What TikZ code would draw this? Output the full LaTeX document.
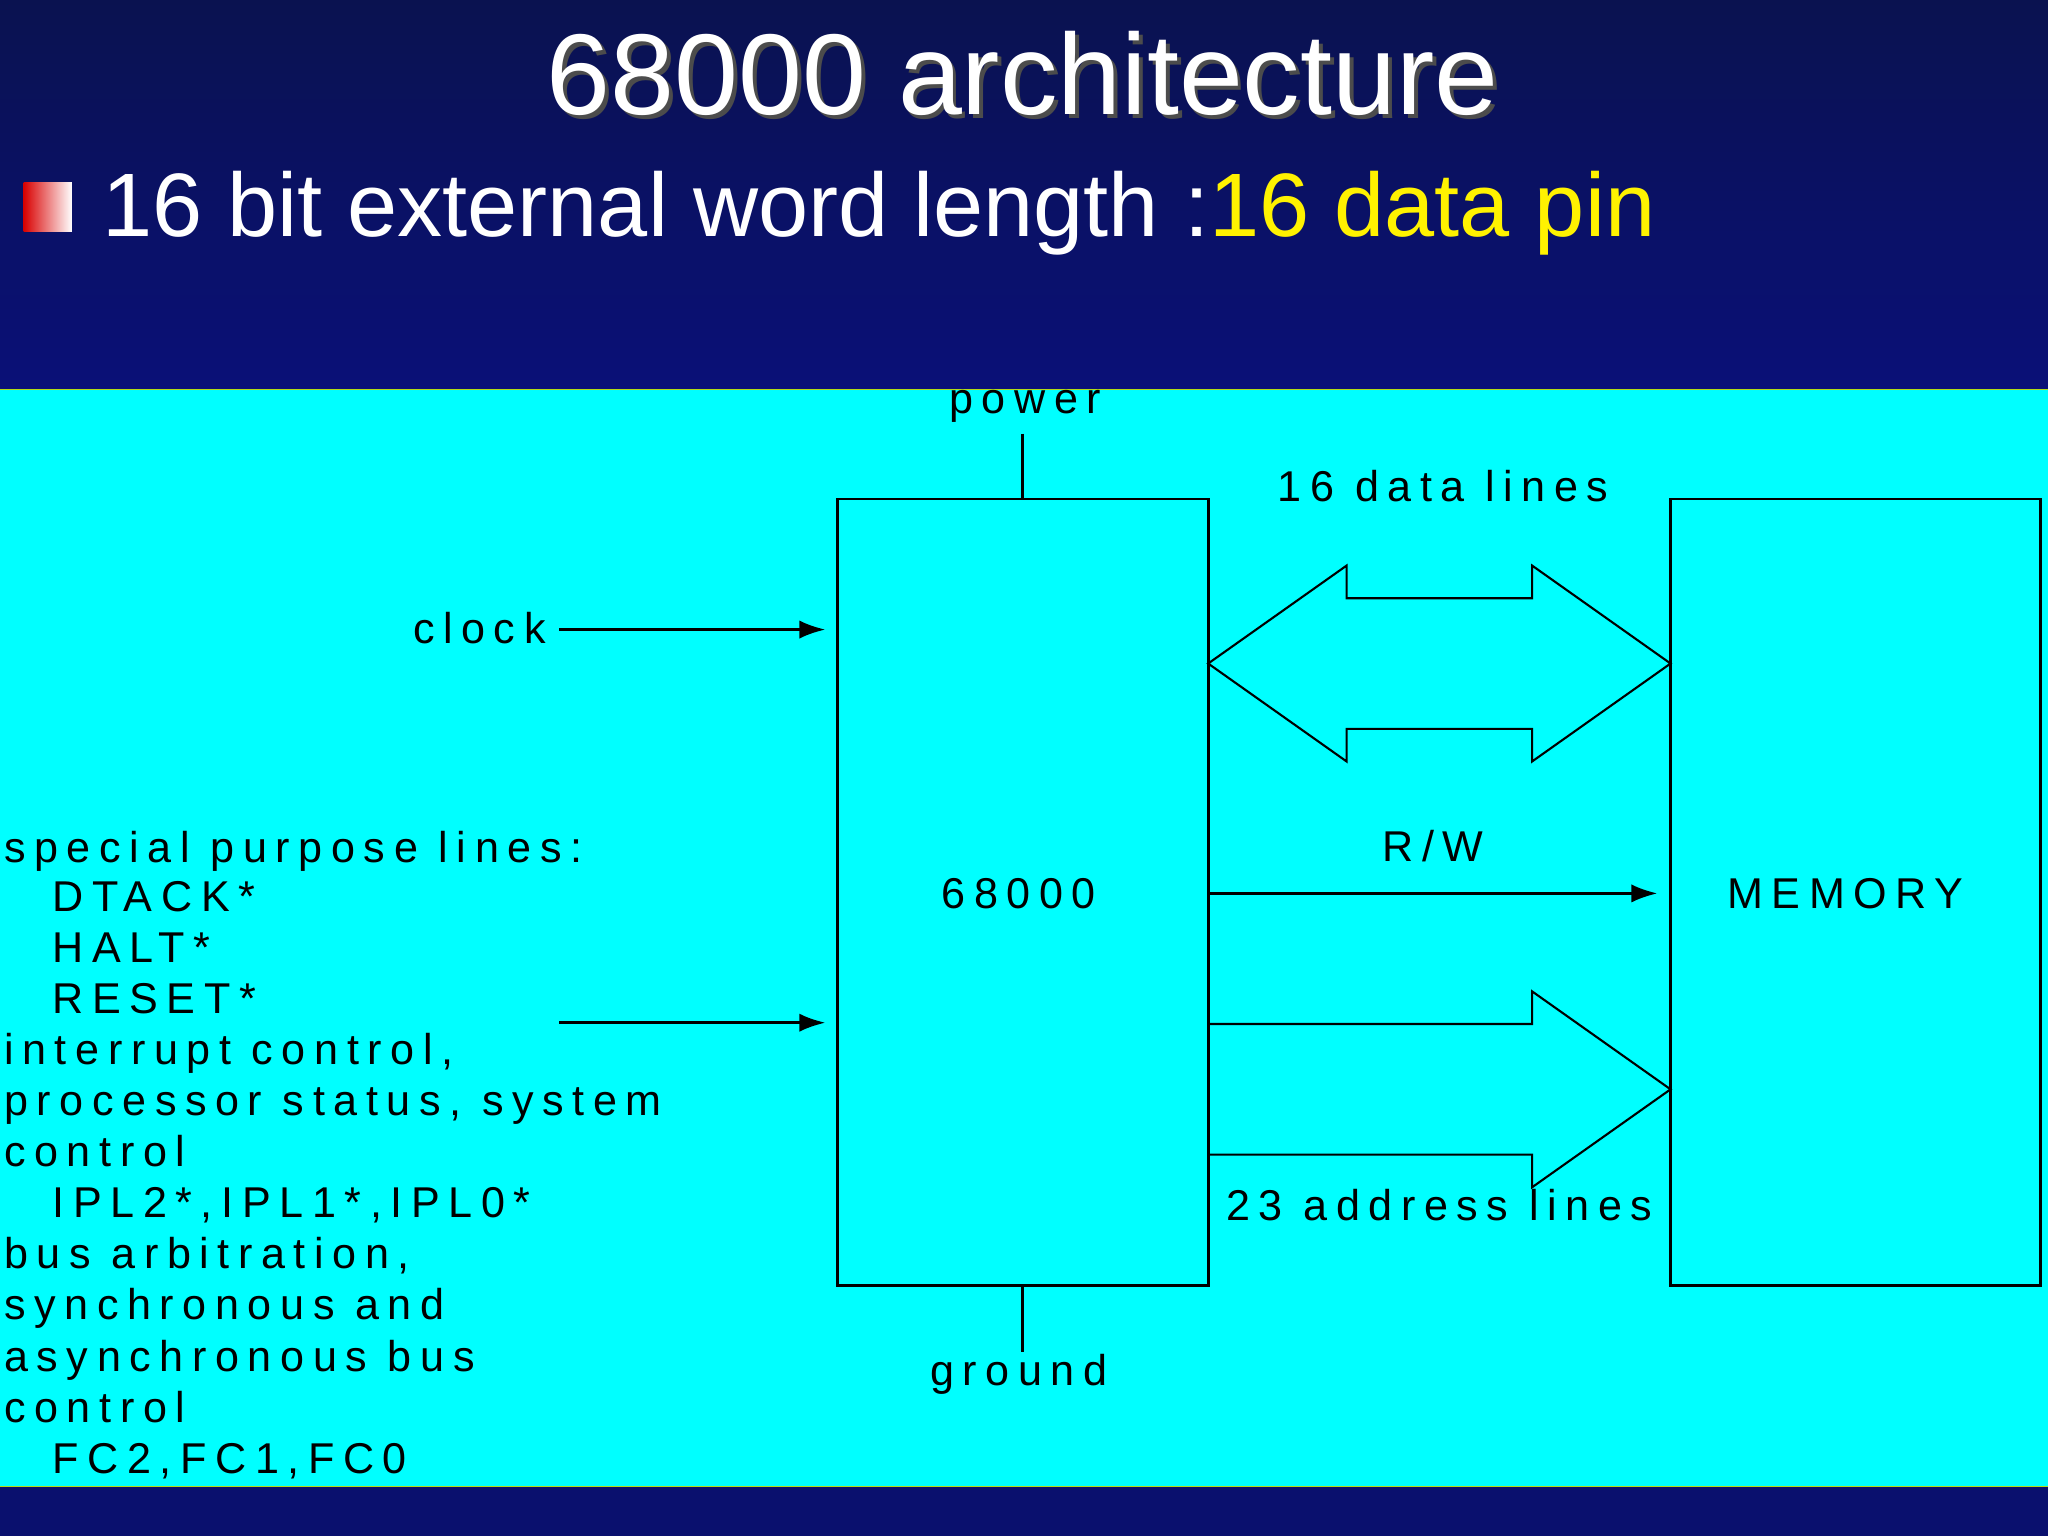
\documentclass[tikz,border=0pt]{standalone}
\usepackage{fontspec}
\setmainfont{Liberation Sans}
\newfontfamily\diagfont{Liberation Sans}[LetterSpace=20]
\usetikzlibrary{arrows.meta}
\definecolor{navytop}{RGB}{10,18,80}
\definecolor{navybot}{RGB}{10,16,120}
\definecolor{navyband}{RGB}{10,16,110}
\definecolor{panel}{RGB}{0,255,255}
\begin{document}
\begin{tikzpicture}[x=1pt,y=-1pt,
  dtxt/.style={font=\diagfont\fontsize{33}{38}\selectfont, inner sep=0pt},
  ltxt/.style={dtxt, anchor=base west},
  blk/.style={draw=black, line width=2.2pt},
  arr/.style={draw=black, line width=2.2pt, -{Latex[length=20pt,width=14pt]}}]
\useasboundingbox (0,0) rectangle (1568,1176);
\shade[top color=navytop, bottom color=navybot] (0,0) rectangle (1568,300);
\fill[navyband] (0,1136) rectangle (1568,1176);
\fill[panel] (0,298) rectangle (1568,1138);
\draw[yellow!70!green, line width=1pt] (0,298) -- (1568,298) (0,1138) -- (1568,1138);
% title
\node[font=\fontsize{88}{100}\selectfont, text=black!70, anchor=base] at (786,91) {68000 architecture};
\node[font=\fontsize{88}{100}\selectfont, text=white, anchor=base] (title) at (783,88) {68000 architecture};
\shade[left color=red!85!black, right color=white] (18,140) rectangle (55,177);
\node[font=\fontsize{69}{78}\selectfont, text=white, anchor=base west, inner sep=0pt] (bul) at (78,181) {16 bit external word length :\textcolor{yellow}{16 data pin}};
% boxes
\node[blk, minimum width=284pt, minimum height=602pt, inner sep=0pt] (cpu) at (783,683) {};
\node[dtxt] (cpulbl) at (780,684) {68000};
\node[blk, minimum width=283pt, minimum height=602pt, inner sep=0pt] (mem) at (1420.5,683) {};
\node[dtxt] (memlbl) at (1413,684) {MEMORY};
% power / ground
\coordinate (pw) at (783,332);
\coordinate (gd) at (783,1035);
\draw[blk] (pw) -- (cpu.north);
\draw[blk] (cpu.south) -- (gd);
\node[dtxt] (power) at (785,311) {power};
\node[dtxt] (ground) at (780,1052) {ground};
% clock
\node[dtxt, anchor=east] (clock) at (418,481) {clock};
\coordinate (ca) at (632,482);
\coordinate (cb) at (428,482);
\draw[arr] (cb) -- (ca);
\coordinate (sa) at (428,783);
\coordinate (sb) at (632,783);
\draw[arr] (sa) -- (sb);
% data bus
\draw[blk, line width=1.6pt] (925,508) -- (1031,433) -- (1031,458) -- (1173,458) -- (1173,433) -- (1279,508) -- (1173,583) -- (1173,558) -- (1031,558) -- (1031,583) -- cycle;
\node[dtxt] (data) at (1105,372) {16 data lines};
% R/W
\coordinate (rw1) at (925,684);
\coordinate (rw2) at (1269,684);
\draw[arr] (rw1) -- (rw2);
\node[dtxt] (rw) at (1097,648) {R/W};
% address bus
\draw[blk, line width=1.6pt] (925,784) -- (1173,784) -- (1173,759) -- (1279,834) -- (1173,909) -- (1173,884) -- (925,884);
\node[dtxt] (addr) at (1102,923) {23 address lines};
% left text
\node[ltxt] at (3,660) {special purpose lines:};
\node[ltxt] at (40,698) {DTACK*};
\node[ltxt] at (40,737) {HALT*};
\node[ltxt] at (40,776) {RESET*};
\node[ltxt] at (3,815) {interrupt control,};
\node[ltxt] at (3,854) {processor status, system};
\node[ltxt] at (3,893) {control};
\node[ltxt] at (40,932) {IPL2*,IPL1*,IPL0*};
\node[ltxt] at (3,971) {bus arbitration,};
\node[ltxt] at (3,1010) {synchronous and};
\node[ltxt] at (3,1050) {asynchronous bus};
\node[ltxt] at (3,1089) {control};
\node[ltxt] at (40,1128) {FC2,FC1,FC0};
\end{tikzpicture}
\end{document}
